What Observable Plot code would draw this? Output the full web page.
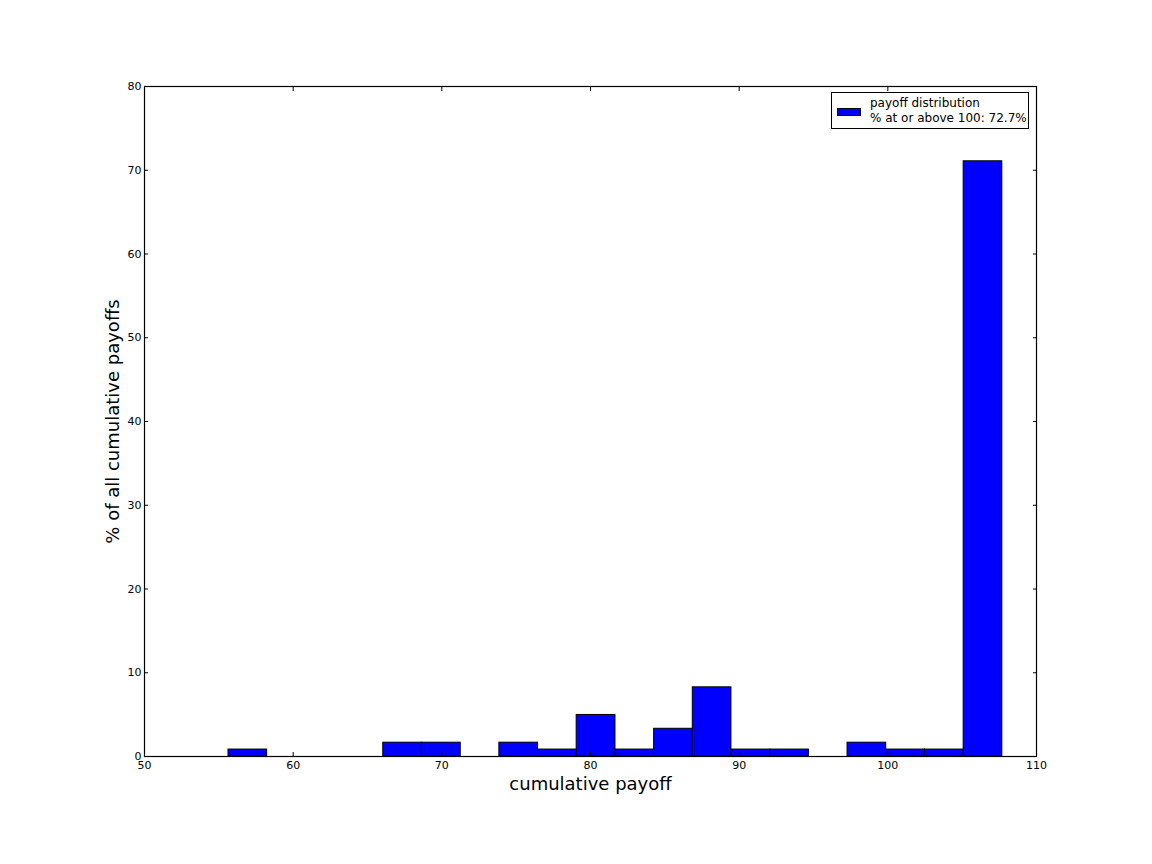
<!DOCTYPE html>
<html>
<head>
<meta charset="utf-8">
<script src="https://cdn.jsdelivr.net/npm/d3@7"></script>
<script src="https://cdn.jsdelivr.net/npm/@observablehq/plot@0.6"></script>
<style>
  body { margin: 0; background: #fff; font-family: "DejaVu Sans", sans-serif; }
  #wrap { position: relative; width: 1152px; height: 864px; }
  #legend { position: absolute; left: 831px; top: 92px; width: 198px; height: 37px;
    border: 1px solid #000; background: #fff; box-sizing: border-box; font-size: 12px; line-height: 15px; }
  #legend .sw { position: absolute; left: 5px; top: 15px; width: 24px; height: 8px; background: #0000ff; border: 1px solid #000; box-sizing: border-box; }
  #legend .tx { position: absolute; left: 38px; top: 3px; white-space: nowrap; color: #000; }
</style>
</head>
<body>
<div id="wrap">
  <div id="chart"></div>
  <div id="legend"><div class="sw"></div><div class="tx">payoff distribution<br>% at or above 100: 72.7%</div></div>
</div>
<script>
const binEdges = [55.65, 58.25, 60.86, 63.46, 66.06, 68.66, 71.27, 73.87, 76.47, 79.07, 81.68,
  84.28, 86.88, 89.48, 92.09, 94.69, 97.29, 99.89, 102.50, 105.10, 107.70];
const percents = [0.83, 0, 0, 0, 1.65, 1.65, 0, 1.65, 0.83, 4.96, 0.83, 3.31, 8.26, 0.83, 0.83, 0, 1.65, 0.83, 0.83, 71.07];
const xTicks = [50, 60, 70, 80, 90, 100, 110];
const yTicks = [0, 10, 20, 30, 40, 50, 60, 70, 80];
const xLabel = "cumulative payoff";
const yLabel = "% of all cumulative payoffs";

const bins = percents.map((p, i) => ({x1: binEdges[i], x2: binEdges[i + 1], pct: p})).filter(d => d.pct > 0);

const chart = Plot.plot({
  width: 1152,
  height: 864,
  marginLeft: 144,
  marginRight: 116,
  marginTop: 86,
  marginBottom: 108,
  style: {fontFamily: "DejaVu Sans, sans-serif", fontSize: "11px", color: "#000", background: "#fff"},
  x: {domain: [50, 110], ticks: xTicks},
  y: {domain: [0, 80], ticks: yTicks},
  marks: [
    Plot.rectY(bins, {x1: "x1", x2: "x2", y: "pct", fill: "#0000ff", stroke: "#000", strokeWidth: 1}),
    Plot.frame({stroke: "#000", strokeWidth: 1.2}),
    Plot.axisX({anchor: "bottom", ticks: xTicks, tickSize: -4, tickPadding: 9, label: null, fontSize: 11}),
    Plot.axisX({anchor: "top", ticks: xTicks, tickSize: -4, tickFormat: () => "", label: null}),
    Plot.axisY({anchor: "left", ticks: yTicks, tickSize: -4, tickPadding: 7, label: null, fontSize: 11}),
    Plot.axisY({anchor: "right", ticks: yTicks, tickSize: -4, tickFormat: () => "", label: null}),
    Plot.text([xLabel], {frameAnchor: "bottom", dy: 33, fontSize: 18, text: d => d}),
    Plot.text([yLabel], {frameAnchor: "left", dx: -31, rotate: -90, textAnchor: "middle", fontSize: 18, text: d => d})
  ]
});
document.getElementById("chart").appendChild(chart);
</script>
</body>
</html>
